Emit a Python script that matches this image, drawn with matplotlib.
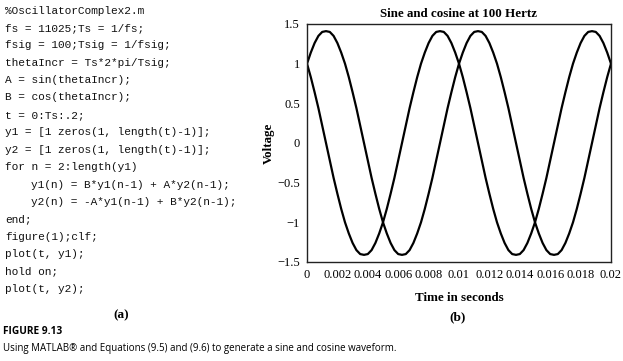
import numpy as np
import matplotlib
matplotlib.use("Agg")
import matplotlib.pyplot as plt

# ---- data (0.00025 s sample spacing) ----
t_start = 0.0
t_step = 0.00025
y1 = [1.00, 1.14, 1.26, 1.35, 1.40, 1.41, 1.40, 1.35, 1.26, 1.14,
      1.00, 0.83, 0.64, 0.44, 0.22, 0.00, -0.22, -0.44, -0.64, -0.83,
      -1.00, -1.14, -1.26, -1.35, -1.40, -1.41, -1.40, -1.35, -1.26, -1.14,
      -1.00, -0.83, -0.64, -0.44, -0.22, 0.00, 0.22, 0.44, 0.64, 0.83,
      1.00, 1.14, 1.26, 1.35, 1.40, 1.41, 1.40, 1.35, 1.26, 1.14,
      1.00, 0.83, 0.64, 0.44, 0.22, 0.00, -0.22, -0.44, -0.64, -0.83,
      -1.00, -1.14, -1.26, -1.35, -1.40, -1.41, -1.40, -1.35, -1.26, -1.14,
      -1.00, -0.83, -0.64, -0.44, -0.22, 0.00, 0.22, 0.44, 0.64, 0.83,
      1.00]
y2 = [1.00, 0.83, 0.64, 0.44, 0.22, 0.00, -0.22, -0.44, -0.64, -0.83,
      -1.00, -1.14, -1.26, -1.35, -1.40, -1.41, -1.40, -1.35, -1.26, -1.14,
      -1.00, -0.83, -0.64, -0.44, -0.22, 0.00, 0.22, 0.44, 0.64, 0.83,
      1.00, 1.14, 1.26, 1.35, 1.40, 1.41, 1.40, 1.35, 1.26, 1.14,
      1.00, 0.83, 0.64, 0.44, 0.22, 0.00, -0.22, -0.44, -0.64, -0.83,
      -1.00, -1.14, -1.26, -1.35, -1.40, -1.41, -1.40, -1.35, -1.26, -1.14,
      -1.00, -0.83, -0.64, -0.44, -0.22, 0.00, 0.22, 0.44, 0.64, 0.83,
      1.00, 1.14, 1.26, 1.35, 1.40, 1.41, 1.40, 1.35, 1.26, 1.14,
      1.00]
x_ticks = [0, 0.002, 0.004, 0.006, 0.008, 0.01, 0.012, 0.014, 0.016, 0.018, 0.02]
x_tick_labels = ["0", "0.002", "0.004", "0.006", "0.008", "0.01", "0.012",
                 "0.014", "0.016", "0.018", "0.02"]
y_ticks = [-1.5, -1, -0.5, 0, 0.5, 1, 1.5]
y_tick_labels = ["\u22121.5", "\u22121", "\u22120.5", "0", "0.5", "1", "1.5"]

code_lines = [
    ("%OscillatorComplex2.m", 0),
    ("fs = 11025;Ts = 1/fs;", 0),
    ("fsig = 100;Tsig = 1/fsig;", 0),
    ("thetaIncr = Ts*2*pi/Tsig;", 0),
    ("A = sin(thetaIncr);", 0),
    ("B = cos(thetaIncr);", 0),
    ("t = 0:Ts:.2;", 0),
    ("y1 = [1 zeros(1, length(t)-1)];", 0),
    ("y2 = [1 zeros(1, length(t)-1)];", 0),
    ("for n = 2:length(y1)", 0),
    ("y1(n) = B*y1(n-1) + A*y2(n-1);", 1),
    ("y2(n) = -A*y1(n-1) + B*y2(n-1);", 1),
    ("end;", 0),
    ("figure(1);clf;", 0),
    ("plot(t, y1);", 0),
    ("hold on;", 0),
    ("plot(t, y2);", 0),
]

W, H = 623, 361
fig = plt.figure(figsize=(W / 100, H / 100), dpi=100)
fig.patch.set_facecolor("white")

def fx(px):
    return px / W

def fy(py):
    return 1 - py / H

# ---- right panel (b) ----
ax_l, ax_r, ax_t, ax_b = 307, 611, 24, 262
ax = fig.add_axes([fx(ax_l), fy(ax_b), fx(ax_r - ax_l), (ax_b - ax_t) / H])
t = t_start + t_step * np.arange(len(y1))
ax.plot(t, y1, color="black", lw=1.6)
ax.plot(t, y2, color="black", lw=1.6)
ax.set_xlim(0, 0.02)
ax.set_ylim(-1.5, 1.5)
serif = "Liberation Serif"
ax.set_xticks(x_ticks)
ax.set_xticklabels(x_tick_labels, family=serif, fontsize=9)
ax.set_yticks(y_ticks)
ax.set_yticklabels(y_tick_labels, family=serif, fontsize=9)
ax.tick_params(direction="in", length=0, pad=5)
for s in ax.spines.values():
    s.set_linewidth(1.0)
    s.set_color("#222222")
ax.set_title("Sine and cosine at 100 Hertz", family=serif, fontsize=9.4,
             fontweight="bold", pad=5)
ax.set_xlabel("Time in seconds", family=serif, fontsize=9.4,
              fontweight="bold", labelpad=8)
ax.set_ylabel("Voltage", family=serif, fontsize=9.4, fontweight="bold",
              labelpad=2)
fig.text(fx(458), fy(317), "(b)", family=serif, fontsize=9.6,
         fontweight="bold", ha="center", va="center")

# ---- left panel (a): code ----
mono = "Liberation Mono"
y0, dy = 10.5, 17.4
for i, (line, indent) in enumerate(code_lines):
    fig.text(fx(5 + 26 * indent), fy(y0 + dy * i), line, family=mono,
             fontsize=8.0, ha="left", va="center", color="#111111")
fig.text(fx(121), fy(315), "(a)", family=serif, fontsize=9.6,
         fontweight="bold", ha="center", va="center")

# ---- caption ----
fig.text(fx(3), fy(332), "FIGURE 9.13", family="Open Sans", fontsize=7.3,
         fontweight="bold", ha="left", va="center")
fig.text(fx(3), fy(349),
         "Using MATLAB\u00ae and Equations (9.5) and (9.6) to generate a sine and cosine waveform.",
         family="Open Sans", fontsize=7.0, ha="left", va="center")

fig.savefig("out.png", dpi=100, facecolor="white")
